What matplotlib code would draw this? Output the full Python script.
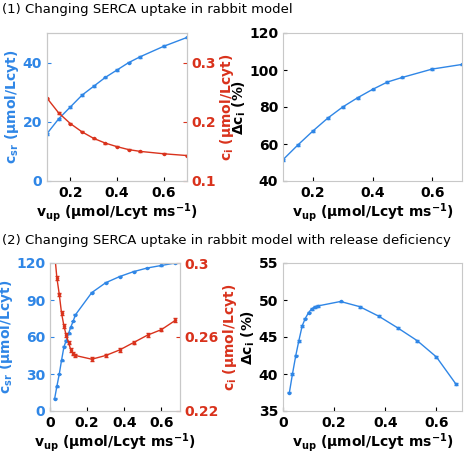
import matplotlib
matplotlib.use("Agg")
import matplotlib.pyplot as plt

blue = "#2f86e6"; red = "#d9321c"
x1 = [0.1,0.15,0.2,0.25,0.3,0.35,0.4,0.45,0.5,0.6,0.7]
csr1 = [16,21,25,29,32,35,37.5,40,42,45.5,48.5]
ci1 = [0.24,0.215,0.197,0.183,0.172,0.164,0.158,0.153,0.150,0.146,0.143]
dci1 = [51.5,59.5,67,74,80,85,89.5,93.5,96,100.5,103]
x2 = [0.025,0.037,0.05,0.062,0.075,0.087,0.1,0.112,0.125,0.137,0.225,0.3,0.375,0.45,0.525,0.6,0.675]
csr2 = [10,20,30,41,52,57,63,68,73,78,96,104,109,113,116,118,120]
ci2 = [0.305,0.292,0.283,0.273,0.266,0.261,0.257,0.253,0.251,0.250,0.248,0.250,0.253,0.257,0.261,0.264,0.269]
dci2 = [37.5,40,42.5,44.5,46.5,47.5,48.3,48.8,49.1,49.2,49.8,49.1,47.8,46.2,44.5,42.3,38.7]

W, H = 474, 463
fig = plt.figure(figsize=(W/100, H/100), dpi=100)
def ax_at(x0, y0, x1_, y1_):
    return fig.add_axes([x0/W, 1-y1_/H, (x1_-x0)/W, (y1_-y0)/H])

xlab = r"$\mathbf{v_{up}}$ ($\mathbf{\mu}$mol/Lcyt ms$^{\mathbf{-1}}$)"
fs = 10
def style(a):
    for s in a.spines.values():
        s.set_color("#c8c8c8")
    a.tick_params(length=3, labelsize=fs, direction='in')
    for l in a.get_xticklabels()+a.get_yticklabels():
        l.set_fontweight("bold")

def left(rect, x, cs, ci, xlim, yl, yt, rl, rt, xt):
    a = ax_at(*rect)
    a.errorbar(x, cs, yerr=0.3, color=blue, lw=1, marker='.', ms=3, capsize=1.5)
    a.set_xlim(*xlim); a.set_ylim(*yl); a.set_yticks(yt); a.set_xticks(xt)
    a.set_xticklabels([f"{v:g}" for v in xt])
    a.set_ylabel(r"$\mathbf{c_{sr}}$ ($\mathbf{\mu}$mol/Lcyt)", color=blue, fontsize=fs, fontweight="bold", labelpad=1)
    a.set_xlabel(xlab, fontsize=fs, fontweight="bold", labelpad=1)
    b = a.twinx()
    b.errorbar(x, ci, yerr=0.001, color=red, lw=1, marker='.', ms=3, capsize=1.5, clip_on=True)
    b.set_ylim(*rl); b.set_yticks(rt)
    b.set_yticklabels([f"{v:g}" for v in rt])
    b.set_ylabel(r"$\mathbf{c_i}$ ($\mathbf{\mu}$mol/Lcyt)", color=red, fontsize=fs, fontweight="bold", labelpad=1)
    style(a); style(b)
    a.tick_params(axis='y', colors=blue); b.tick_params(axis='y', colors=red)
    for l in a.get_yticklabels()+b.get_yticklabels(): l.set_fontweight("bold")

def right(rect, x, d, xlim, yl, yt, xt):
    a = ax_at(*rect)
    a.errorbar(x, d, yerr=(yl[1]-yl[0])*0.006, color=blue, lw=1, marker='.', ms=3, capsize=1.5)
    a.set_xlim(*xlim); a.set_ylim(*yl); a.set_yticks(yt); a.set_xticks(xt)
    a.set_xticklabels([f"{v:g}" for v in xt])
    a.set_ylabel(r"$\mathbf{\Delta c_i}$ (%)", fontsize=fs, fontweight="bold", labelpad=1)
    a.set_xlabel(xlab, fontsize=fs, fontweight="bold", labelpad=1)
    style(a)

left((47,33,187,181), x1, csr1, ci1, (0.1,0.7), (0,50), [0,20,40], (0.1,0.35), [0.1,0.2,0.3], [0.2,0.4,0.6])
right((283,33,462,181), x1, dci1, (0.1,0.7), (40,120), [40,60,80,100,120], [0.2,0.4,0.6])
left((50,263,180,411), x2, csr2, ci2, (0,0.7), (0,120), [0,30,60,90,120], (0.22,0.3), [0.22,0.26,0.3], [0,0.2,0.4,0.6])
right((283,263,462,411), x2, dci2, (0,0.7), (35,55), [35,40,45,50,55], [0,0.2,0.4,0.6])

fig.text(0.005, 1-9/H, "(1) Changing SERCA uptake in rabbit model", fontsize=9.5, va='center')
fig.text(0.005, 1-240/H, "(2) Changing SERCA uptake in rabbit model with release deficiency", fontsize=9.5, va='center')
fig.savefig("out.png", dpi=100)
